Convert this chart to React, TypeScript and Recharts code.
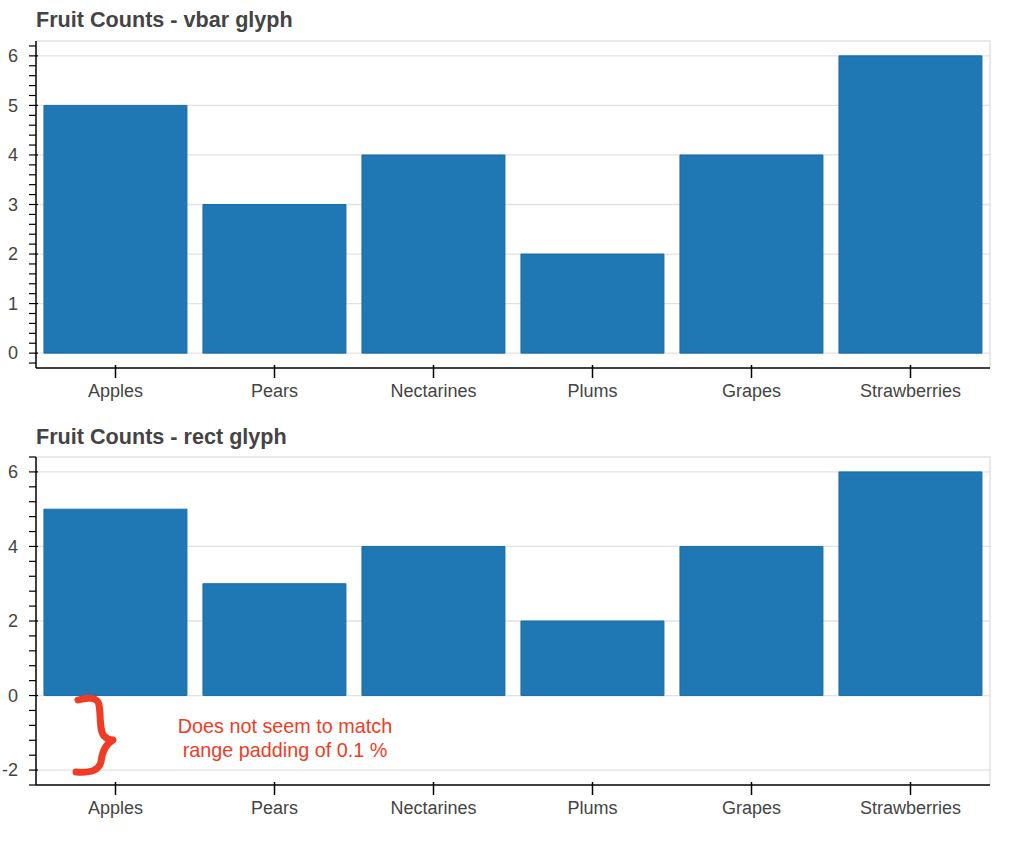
import React from 'react';
import {
  BarChart,
  Bar,
  XAxis,
  YAxis,
  CartesianGrid,
  ReferenceLine,
} from 'recharts';

const fruits = ['Apples', 'Pears', 'Nectarines', 'Plums', 'Grapes', 'Strawberries'];
const counts = [5, 3, 4, 2, 4, 6];

// top chart (vbar glyph)
const vbarDomain = [-0.3, 6.3];
const vbarMajor = [0, 1, 2, 3, 4, 5, 6];
const vbarMinorStep = 0.2;

// bottom chart (rect glyph)
const rectDomain = [-2.4, 6.4];
const rectMajor = [-2, 0, 2, 4, 6];
const rectMinorStep = 0.4;

const data = fruits.map((name, i) => ({ name, count: counts[i] }));

const FONT = 'Helvetica, Arial, "Liberation Sans", sans-serif';
const TEXT = '#444444';
const GRID = '#e2e2e2';
const BAR = '#1f77b4';

function tickList(domain: number[], step: number) {
  const out: number[] = [];
  const start = Math.ceil(domain[0] / step - 1e-9);
  const end = Math.floor(domain[1] / step + 1e-9);
  for (let k = start; k <= end; k++) out.push(Math.round(k * step * 10) / 10);
  return out;
}

function isMajor(v: number, majors: number[]) {
  return majors.some((m) => Math.abs(m - v) < 1e-6);
}

const YTick = (props: any) => {
  const { x, y, payload, majors } = props;
  const v = payload.value;
  const major = isMajor(v, majors);
  return (
    <g>
      <line x1={x - 7} x2={major ? x + 2 : x} y1={y} y2={y} stroke="#000" strokeWidth={1.2} />
      {major && (
        <text x={x - 18} y={y} dy="0.35em" textAnchor="end" fill={TEXT}
          style={{ fontFamily: FONT, fontSize: 18 }}>
          {String(Math.round(v))}
        </text>
      )}
    </g>
  );
};

const XTick = (props: any) => {
  const { x, y, payload } = props;
  return (
    <g>
      <line x1={x} x2={x} y1={y - 3} y2={y + 10} stroke="#000" strokeWidth={1.5} />
      <text x={x} y={y + 23} dy="0.35em" textAnchor="middle" fill={TEXT}
        style={{ fontFamily: FONT, fontSize: 18 }}>
        {payload.value}
      </text>
    </g>
  );
};

function FruitChart({ domain, majors, minorStep, height }: { domain: number[]; majors: number[]; minorStep: number; height: number }) {
  const ticks = tickList(domain, minorStep);
  return (
    <BarChart
      width={1024}
      height={height}
      data={data}
      margin={{ top: 41, right: 34, left: 0, bottom: 0 }}
      barCategoryGap="5%"
    >
      <CartesianGrid horizontalValues={majors} vertical={false} stroke={GRID} strokeWidth={1.3} />
      <ReferenceLine y={domain[1]} stroke={GRID} strokeWidth={1.5} />
      <ReferenceLine x={fruits[fruits.length - 1]} position="end" stroke={GRID} strokeWidth={1.5} />
      <XAxis
        dataKey="name"
        height={52}
        interval={0}
        tickSize={0}
        tickMargin={0}
        tickLine={false}
        axisLine={{ stroke: '#000', strokeWidth: 1.5 }}
        tick={<XTick />}
      />
      <YAxis
        type="number"
        width={36}
        domain={domain}
        allowDataOverflow
        ticks={ticks}
        interval={0}
        tickSize={0}
        tickMargin={0}
        tickLine={false}
        axisLine={{ stroke: '#000', strokeWidth: 1.5 }}
        tick={<YTick majors={majors} />}
      />
      <Bar dataKey="count" fill={BAR} stroke="#1c6ea8" strokeWidth={1} isAnimationActive={false} />
    </BarChart>
  );
}

const titleStyle: React.CSSProperties = {
  position: 'absolute',
  left: 36,
  fontFamily: FONT,
  fontWeight: 'bold',
  fontSize: 21.6,
  lineHeight: '24px',
  color: TEXT,
};

export default function App() {
  return (
    <div style={{ position: 'absolute', left: 0, top: 0, width: 1024, height: 844, background: '#fff', overflow: 'hidden' }}>
      <div style={{ position: 'absolute', left: 0, top: 0 }}>
        <FruitChart domain={vbarDomain} majors={vbarMajor} minorStep={vbarMinorStep} height={420} />
      </div>
      <div style={{ position: 'absolute', left: 0, top: 416 }}>
        <FruitChart domain={rectDomain} majors={rectMajor} minorStep={rectMinorStep} height={421} />
      </div>
      <div style={{ ...titleStyle, top: 8 }}>Fruit Counts - vbar glyph</div>
      <div style={{ ...titleStyle, top: 425 }}>Fruit Counts - rect glyph</div>

      <svg width={1024} height={844} style={{ position: 'absolute', left: 0, top: 0, pointerEvents: 'none' }}>
        <path
          d="M78,700 C88,697 98,697 99,705 C101,715 99,730 104,736 C108,740 113,740 113,740 C106,744 102,752 101,762 C99,770 92,773 76,772"
          fill="none"
          stroke="#f03c25"
          strokeWidth={7}
          strokeLinecap="round"
          strokeLinejoin="round"
        />
      </svg>
      <div
        style={{
          position: 'absolute',
          left: 135,
          top: 714,
          width: 300,
          textAlign: 'center',
          fontFamily: FONT,
          fontSize: 19.8,
          lineHeight: '24px',
          color: '#f03c25',
        }}
      >
        Does not seem to match
        <br />
        range padding of 0.1 %
      </div>
    </div>
  );
}
